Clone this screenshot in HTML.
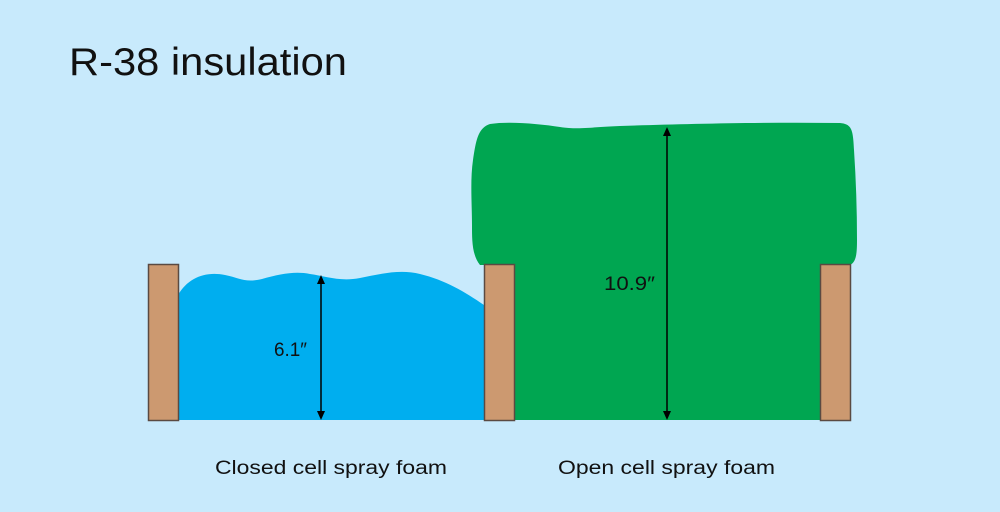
<!DOCTYPE html>
<html><head><meta charset="utf-8"><style>
html,body{margin:0;padding:0;background:#c8eafc;}
svg{display:block}
text{font-family:"Liberation Sans",sans-serif;}
</style></head><body>
<svg width="1000" height="512" viewBox="0 0 1000 512">
<rect width="1000" height="512" fill="#c8eafc"/>
<text x="69" y="75" font-size="39" fill="#111" textLength="278" lengthAdjust="spacingAndGlyphs">R-38 insulation</text>
<path d="M178 295 C188 278 205 271 225 275 C240 278 245 283 262 279 C280 274 295 271 310 274 C325 276 340 282 360 278 C380 274 400 269 420 274 C445 280 465 292 484 305 L484 420 L178 420 Z" fill="#00aeef"/>
<path d="M484 265 L480 265 C472 255 472 240 472 225 C472 205 470 180 473 160 C476 140 478 128 490 124 C510 121 540 124 560 127 C580 130 590 127 620 126 C680 124 760 122 840 123 C852 124 853 130 854 150 C856 180 857 210 857 240 C857 255 856 262 850 265 L820 265 L820 420 L514 420 L514 265 Z" fill="#00a651"/>
<rect x="148.5" y="264.5" width="30" height="156" fill="#cc9970" stroke="#5a4a42" stroke-width="1.5"/>
<rect x="484.5" y="264.5" width="30" height="156" fill="#cc9970" stroke="#5a4a42" stroke-width="1.5"/>
<rect x="820.5" y="264.5" width="30" height="156" fill="#cc9970" stroke="#5a4a42" stroke-width="1.5"/>
<g stroke="#000" stroke-width="1.5">
<line x1="321" y1="282" x2="321" y2="413"/>
<line x1="667" y1="134" x2="667" y2="413"/>
</g>
<g fill="#000">
<path d="M321 275 L317 284 L325 284 Z"/><path d="M321 420 L317 411 L325 411 Z"/>
<path d="M667 127 L663 136 L671 136 Z"/><path d="M667 420 L663 411 L671 411 Z"/>
</g>
<text x="274" y="356" font-size="19" fill="#111" textLength="33" lengthAdjust="spacingAndGlyphs">6.1″</text>
<text x="604" y="290" font-size="19" fill="#111" textLength="51" lengthAdjust="spacingAndGlyphs">10.9″</text>
<text x="215" y="474" font-size="19" fill="#111" textLength="232" lengthAdjust="spacingAndGlyphs">Closed cell spray foam</text>
<text x="558" y="474" font-size="19" fill="#111" textLength="217" lengthAdjust="spacingAndGlyphs">Open cell spray foam</text>
</svg>
</body></html>
